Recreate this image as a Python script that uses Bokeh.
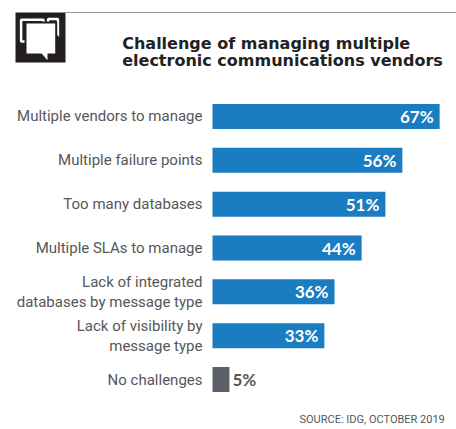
from bokeh.plotting import figure
from bokeh.models import ColumnDataSource, Range1d, FactorRange
from bokeh.layouts import column
from bokeh.core.properties import value
from bokeh.embed import file_html
from bokeh.resources import INLINE

title_lines = ["Challenge of managing multiple", "electronic communications vendors"]
categories = [
    "Multiple vendors to manage",
    "Multiple failure points",
    "Too many databases",
    "Multiple SLAs to manage",
    "Lack of integrated\ndatabases by message type",
    "Lack of visibility by\nmessage type",
    "No challenges",
]
values = [67, 56, 51, 44, 36, 33, 5]
source_text = "SOURCE: IDG, OCTOBER 2019"

BLUE = "#1a7cc1"
GRAY_BAR = "#5d6068"
TEXT_GRAY = "#555759"
W = 456


def bare(fig):
    fig.grid.visible = False
    fig.outline_line_color = None
    fig.background_fill_color = "white"
    fig.border_fill_color = "white"
    return fig


# ---------------- header ----------------
HH = 86
hdr = bare(figure(width=W, height=HH, x_range=Range1d(0, W), y_range=Range1d(HH, 0),
                  toolbar_location=None, output_backend="svg", min_border=0,
                  x_axis_location=None, y_axis_location=None))

hdr.segment(x0=[65], y0=[12], x1=[W], y1=[12], line_color="#9a9a9a", line_width=1)
# icon
hdr.quad(left=[15], right=[65], top=[12], bottom=[62], fill_color="#231f20", line_color=None)
hdr.quad(left=[20.6], right=[43], top=[19.3], bottom=[41], fill_color=None,
         line_color="white", line_width=2.5)
hdr.quad(left=[47.6], right=[57.4], top=[18.6], bottom=[31.5], fill_color=None,
         line_color="white", line_width=2.5)
hdr.patch(x=[53, 58.7, 58.7], y=[30.5, 30.5, 36.5], fill_color="white", line_color=None)
hdr.quad(left=[24], right=[56.7], top=[21], bottom=[55], fill_color="#231f20", line_color=None)
hdr.quad(left=[26], right=[54.7], top=[23], bottom=[53], fill_color="white", line_color=None)
hdr.patch(x=[40.3, 47, 47], y=[52, 52, 59.7], fill_color="white", line_color=None)

hdr.text(x=[121.7, 121.7], y=[42.7, 60.0], text=title_lines,
         text_font=value("DejaVu Sans"), text_font_style="bold",
         text_font_size="16px", text_color="#222222",
         text_align="left", text_baseline="alphabetic")

# ---------------- bars ----------------
px_per_pct = 3.39
zero_px = 212
bars = bare(figure(width=W, height=315,
                   x_range=Range1d(-zero_px / px_per_pct, (W - zero_px) / px_per_pct),
                   y_range=FactorRange(factors=list(reversed(categories))),
                   toolbar_location=None, output_backend="svg",
                   min_border_left=0, min_border_right=0, min_border_top=8, min_border_bottom=0,
                   x_axis_location=None, y_axis_location=None))

small = [v < 10 for v in values]
src = ColumnDataSource(dict(
    cat=categories,
    val=values,
    zero=[0] * len(values),
    color=[GRAY_BAR if s else BLUE for s in small],
    lbl=[f"{v}%" for v in values],
    lbl_color=[TEXT_GRAY if s else "white" for s in small],
    lbl_align=["left" if s else "right" for s in small],
    lbl_off=[3 if s else -6 for s in small],
))

bars.hbar(y="cat", left="zero", right="val", height=0.57, fill_color="color",
          line_color=None, source=src)

bars.text(x="zero", y="cat", text="cat", source=src, x_offset=-10,
          text_align="right", text_baseline="middle",
          text_font=value("Roboto"), text_font_size="15px", text_color=TEXT_GRAY,
          text_line_height=1.1)

bars.text(x="val", y="cat", text="lbl", source=src, x_offset="lbl_off",
          text_align="lbl_align", text_baseline="middle",
          text_font=value("Lato"), text_font_style="bold", text_font_size="17px",
          text_color="lbl_color")

# ---------------- source ----------------
SH = 28
foot = bare(figure(width=W, height=SH, x_range=Range1d(0, W), y_range=Range1d(SH, 0),
                   toolbar_location=None, output_backend="svg", min_border=0,
                   x_axis_location=None, y_axis_location=None))
foot.text(x=[444.3], y=[18], text=[source_text], text_align="right",
          text_baseline="alphabetic", text_font=value("Roboto"),
          text_font_size="11px", text_color=TEXT_GRAY)

layout = column(hdr, bars, foot, spacing=0)
open("out.html", "w").write(file_html(layout, INLINE))
